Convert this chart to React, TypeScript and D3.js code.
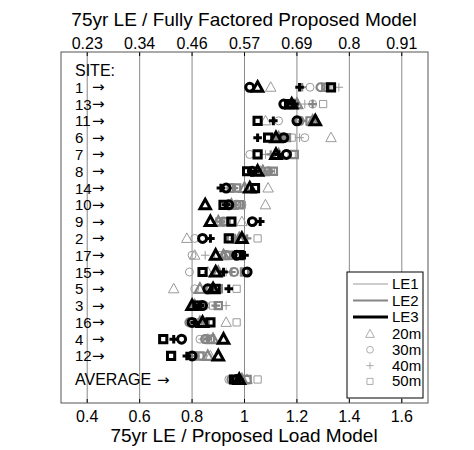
import React from "react";
import * as d3 from "d3";

// rows top to bottom (last one is the average)
const sites = ["1", "13", "11", "6", "7", "8", "14", "10", "9", "2", "17", "15", "5", "3", "16", "4", "12"];

const bottomTicks = [0.4, 0.6, 0.8, 1, 1.2, 1.4, 1.6];
const topTickLabels = ["0.23", "0.34", "0.46", "0.57", "0.69", "0.8", "0.91"];

// LE1 (light, thin)
const le1Tri = [1.1, 1.19, 1.08, 1.33, 1.12, 1.06, 1.09, 1.08, 0.99, 0.78, 0.81, 0.86, 0.73, 0.82, 0.93, 0.86, 0.87, 1.01];
const le1Circ = [1.25, 1.26, 1.13, 1.23, 1.02, 1.08, 0.95, 0.99, 0.91, 0.81, 0.8, 0.79, 0.81, 0.85, 0.8, 0.83, 0.83, 0.94];
const le1Plus = [1.36, 1.23, 1.22, 1.21, 1.08, 1.09, 0.94, 0.97, 0.89, 0.96, 0.85, 0.93, 0.9, 0.93, 0.82, 0.84, 0.81, 0.99];
const le1Sq = [1.32, 1.3, 1.25, 1.18, 1.18, 1.1, 0.97, 0.99, 0.92, 1.05, 0.9, 0.96, 0.97, 0.88, 0.97, 0.86, 0.84, 1.05];

// LE2 (gray, medium)
const le2Tri = [1.05, 1.2, 1.26, 1.13, 1.13, 1.07, 1.0, 0.95, 0.9, 0.98, 0.92, 0.9, 0.83, 0.81, 0.83, 0.88, 0.86, 0.99];
const le2Circ = [1.29, 1.17, 1.21, 1.14, 1.16, 1.09, 0.95, 0.97, 0.92, 0.99, 0.93, 0.96, 0.87, 0.83, 0.79, 0.85, 0.81, 0.95];
const le2Plus = [1.22, 1.26, 1.22, 1.12, 1.1, 1.1, 0.96, 0.96, 0.91, 1.01, 0.96, 0.95, 0.88, 0.89, 0.81, 0.86, 0.8, 0.97];
const le2Sq = [1.31, 1.19, 1.25, 1.16, 1.19, 1.11, 0.97, 0.98, 0.93, 0.95, 0.94, 1.0, 0.9, 0.9, 0.85, 0.87, 0.83, 1.01];

// LE3 (black, thick)
const le3Tri = [1.05, 1.18, 1.27, 1.12, 1.12, 1.05, 1.02, 0.85, 0.87, 0.99, 0.89, 0.89, 0.88, 0.8, 0.84, 0.92, 0.9, 0.98];
const le3Circ = [1.02, 1.15, 1.2, 1.15, 1.16, 1.03, 0.93, 0.94, 1.03, 0.84, 0.97, 1.01, 0.86, 0.84, 0.8, 0.76, 0.8, 0.97];
const le3Plus = [1.21, 1.19, 1.11, 1.05, 1.13, 1.04, 0.91, 0.93, 1.06, 0.87, 1.0, 0.92, 0.94, 0.83, 0.81, 0.73, 0.78, 0.98];
const le3Sq = [1.33, 1.17, 1.05, 1.09, 1.05, 1.01, 1.04, 0.92, 0.95, 0.94, 0.98, 0.84, 0.89, 0.82, 0.87, 0.69, 0.72, 0.96];

const depths = ["20m", "30m", "40m", "50m"];
const shapes = ["tri", "circ", "plus", "sq"];

const series = [
  { name: "LE1", color: "#9a9a9a", width: 1, values: [le1Tri, le1Circ, le1Plus, le1Sq] },
  { name: "LE2", color: "#858585", width: 2.2, values: [le2Tri, le2Circ, le2Plus, le2Sq] },
  { name: "LE3", color: "#000", width: 3, values: [le3Tri, le3Circ, le3Plus, le3Sq] },
];

const W = 474;
const H = 450;
const left = 61;
const right = 428;
const top = 52;
const bottom = 403;
const font = "'Liberation Sans', Arial, Helvetica, sans-serif";
const arrowFont = "'DejaVu Sans', sans-serif";

const x = d3.scaleLinear().domain([0.3, 1.7]).range([left, right]);
// row index: SITE: = 0, sites 1..17, average 18.4
const y = d3.scaleLinear().domain([-1.1, 19.8]).range([top, bottom]);
const avgIndex = 18.4;

const marker = (shape: string, cx: number, cy: number, s: number) => {
  const p = d3.path();
  if (shape === "tri") {
    p.moveTo(cx, cy - s * 0.58);
    p.lineTo(cx + s * 0.55, cy + s * 0.42);
    p.lineTo(cx - s * 0.55, cy + s * 0.42);
    p.closePath();
  } else if (shape === "circ") {
    p.moveTo(cx + s * 0.42, cy);
    p.arc(cx, cy, s * 0.42, 0, Math.PI * 2);
  } else if (shape === "plus") {
    p.moveTo(cx - s * 0.45, cy);
    p.lineTo(cx + s * 0.45, cy);
    p.moveTo(cx, cy - s * 0.45);
    p.lineTo(cx, cy + s * 0.45);
  } else {
    p.rect(cx - s * 0.38, cy - s * 0.38, s * 0.76, s * 0.76);
  }
  return p.toString();
};

const App = () => {
  const rowY = (i: number) => (i < sites.length ? y(i + 1) : y(avgIndex));
  const legX = 347;
  const legY = 272;
  return (
    <svg
      width={W}
      height={H}
      style={{ position: "absolute", left: 0, top: 0, background: "#fff" }}
      fontFamily={font}
    >
      <rect width={W} height={H} fill="#fff" />
      {/* grid */}
      {bottomTicks.map((t) => (
        <line key={"g" + t} x1={x(t)} x2={x(t)} y1={top} y2={bottom} stroke="#8a8a8a" strokeWidth={1} />
      ))}
      {/* ticks */}
      {bottomTicks.map((t) => (
        <g key={"t" + t} stroke="#000" strokeWidth={1}>
          <line x1={x(t)} x2={x(t)} y1={top} y2={top + 4} />
          <line x1={x(t)} x2={x(t)} y1={bottom} y2={bottom - 4} />
        </g>
      ))}
      <rect x={left} y={top} width={right - left} height={bottom - top} fill="none" stroke="#555" strokeWidth={1} />

      {/* tick labels */}
      {topTickLabels.map((l, i) => (
        <text key={"tl" + l} x={x(bottomTicks[i])} y={49} fontSize={16} textAnchor="middle">
          {l}
        </text>
      ))}
      {bottomTicks.map((t) => (
        <text key={"bl" + t} x={x(t)} y={422} fontSize={16} textAnchor="middle">
          {d3.format("~g")(t)}
        </text>
      ))}
      <text x={244} y={26} fontSize={19} textAnchor="middle">
        75yr LE / Fully Factored Proposed Model
      </text>
      <text x={244} y={442} fontSize={19} textAnchor="middle">
        75yr LE / Proposed Load Model
      </text>

      {/* row labels */}
      <text x={75} y={y(0) + 6} fontSize={16}>
        SITE:
      </text>
      {sites.map((s, i) => (
        <g key={"r" + s}>
          <text x={75} y={rowY(i) + 5.5} fontSize={15}>
            {s}
          </text>
          <text x={92} y={rowY(i) + 5} fontSize={15} fontFamily={arrowFont}>
            →
          </text>
        </g>
      ))}
      <text x={75} y={y(avgIndex) + 6} fontSize={16}>
        AVERAGE
      </text>
      <text x={157} y={y(avgIndex) + 5.5} fontSize={15} fontFamily={arrowFont}>
        →
      </text>

      {/* markers */}
      {series.map((se) =>
        se.values.map((vals, k) =>
          vals.map((v, i) => (
            <path
              key={se.name + k + i}
              d={marker(shapes[k], x(v), rowY(i), 9.5)}
              fill="none"
              stroke={se.color}
              strokeWidth={se.width}
            />
          ))
        )
      )}

      {/* legend */}
      <rect x={legX} y={legY} width={423 - legX} height={398 - legY} fill="#fff" stroke="#000" strokeWidth={1} />
      {series.map((se, i) => (
        <g key={"leg" + se.name}>
          <line
            x1={353}
            x2={388}
            y1={legY + 12 + i * 16.5}
            y2={legY + 12 + i * 16.5}
            stroke={se.color}
            strokeWidth={se.name === "LE1" ? 1 : se.name === "LE2" ? 1.8 : 3}
          />
          <text x={392} y={legY + 17 + i * 16.5} fontSize={15}>
            {se.name}
          </text>
        </g>
      ))}
      {depths.map((dname, k) => (
        <g key={"legd" + dname}>
          <path
            d={marker(shapes[k], 370, legY + 62 + k * 15.8, 8)}
            fill="none"
            stroke="#999"
            strokeWidth={0.8}
          />
          <text x={392} y={legY + 67 + k * 15.8} fontSize={15}>
            {dname}
          </text>
        </g>
      ))}
    </svg>
  );
};

export default App;
